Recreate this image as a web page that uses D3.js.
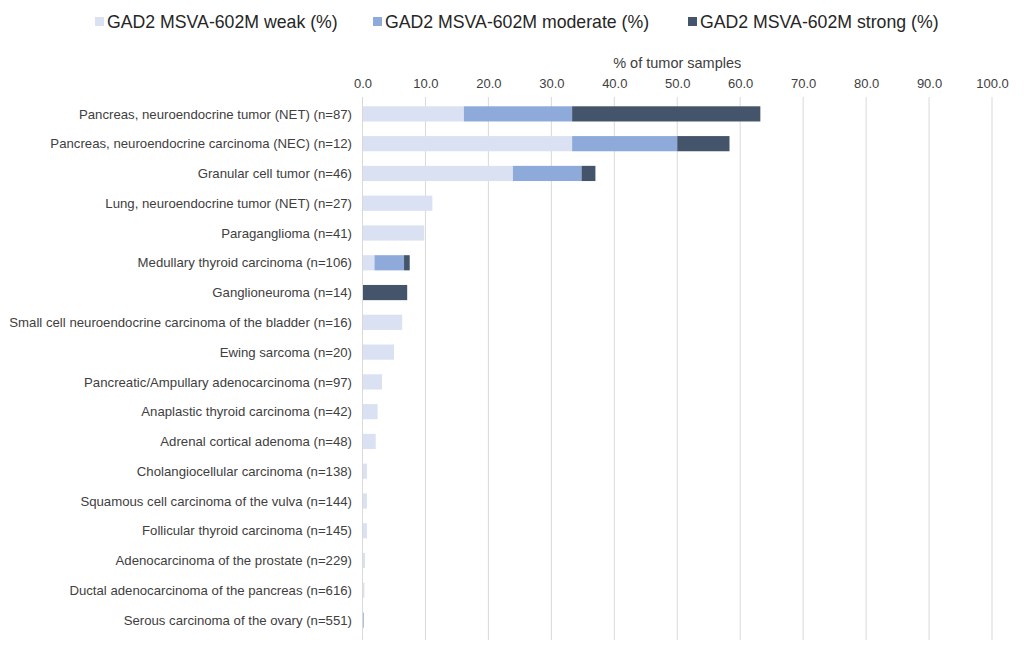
<!DOCTYPE html>
<html><head><meta charset="utf-8">
<script src="https://cdn.jsdelivr.net/npm/d3@7"></script>
<style>body{margin:0;background:#fff}svg{display:block}text{font-family:"Liberation Sans",Arial,sans-serif;fill:#404040}</style>
</head><body><svg id="c" width="1024" height="652"></svg>
<script>
const categories = [
 "Pancreas, neuroendocrine tumor (NET) (n=87)",
 "Pancreas, neuroendocrine carcinoma (NEC) (n=12)",
 "Granular cell tumor (n=46)",
 "Lung, neuroendocrine tumor (NET) (n=27)",
 "Paraganglioma (n=41)",
 "Medullary thyroid carcinoma (n=106)",
 "Ganglioneuroma (n=14)",
 "Small cell neuroendocrine carcinoma of the bladder (n=16)",
 "Ewing sarcoma (n=20)",
 "Pancreatic/Ampullary adenocarcinoma (n=97)",
 "Anaplastic thyroid carcinoma (n=42)",
 "Adrenal cortical adenoma (n=48)",
 "Cholangiocellular carcinoma (n=138)",
 "Squamous cell carcinoma of the vulva (n=144)",
 "Follicular thyroid carcinoma (n=145)",
 "Adenocarcinoma of the prostate (n=229)",
 "Ductal adenocarcinoma of the pancreas (n=616)",
 "Serous carcinoma of the ovary (n=551)"
];
const weak     = [16.1, 33.3, 23.9, 11.1, 9.8, 1.9, 0, 6.3, 5.0, 3.1, 2.4, 2.1, 0.7, 0.7, 0.7, 0.4, 0.3, 0];
const moderate = [17.2, 16.7, 10.9, 0, 0, 4.7, 0, 0, 0, 0, 0, 0, 0, 0, 0, 0, 0, 0.2];
const strong   = [29.9, 8.3, 2.2, 0, 0, 0.9, 7.1, 0, 0, 0, 0, 0, 0, 0, 0, 0, 0, 0];
const seriesNames = ["GAD2 MSVA-602M weak (%)", "GAD2 MSVA-602M moderate (%)", "GAD2 MSVA-602M strong (%)"];
const colors = ["#dae1f2", "#8eaadb", "#44546a"];
const ticks = [0,10,20,30,40,50,60,70,80,90,100];

const svg = d3.select("#c");
const x = d3.scaleLinear().domain([0,100]).range([362.5, 992]);
const y = d3.scaleBand().domain(categories).range([99, 635]).paddingInner(0.49).paddingOuter(0.245);

// gridlines
svg.append("g").selectAll("line").data(ticks.slice(1)).join("line")
  .attr("x1", d=>x(d)).attr("x2", d=>x(d)).attr("y1", 97).attr("y2", 640)
  .attr("stroke", "#d9d9d9").attr("stroke-width", 1);

// stacks
const rows = categories.map((c,i)=>({cat:c, weak:weak[i], moderate:moderate[i], strong:strong[i]}));
const stack = d3.stack().keys(["weak","moderate","strong"])(rows);
svg.append("g").selectAll("g").data(stack).join("g").attr("fill", (d,i)=>colors[i])
  .selectAll("rect").data(d=>d).join("rect")
  .attr("x", d=>x(d[0])).attr("width", d=>Math.max(0, x(d[1])-x(d[0])))
  .attr("y", d=>y(d.data.cat)).attr("height", y.bandwidth());

// y axis line
svg.append("line").attr("x1", x(0)).attr("x2", x(0)).attr("y1", 97).attr("y2", 640)
  .attr("stroke", "#d9d9d9").attr("stroke-width", 1);

// category labels
svg.append("g").selectAll("text").data(categories).join("text")
  .attr("x", 352).attr("y", d=>y(d)+y.bandwidth()/2).attr("dy", "0.35em")
  .attr("text-anchor", "end").attr("font-size", 13.2).text(d=>d);

// top axis
const ax = svg.append("g").attr("transform", "translate(0,97)")
  .call(d3.axisTop(x).tickValues(ticks).tickFormat(d3.format(".1f")).tickSize(0).tickPadding(9));
ax.select(".domain").remove();
ax.selectAll("text").attr("font-size", 13).style("font-family", '"Liberation Sans",Arial,sans-serif').attr("fill", "#404040");

svg.append("text").attr("x", x(50)).attr("y", 68).attr("text-anchor", "middle").attr("font-size", 14.5).text("% of tumor samples");

// legend
const legX = [95, 373, 688];
const lg = svg.append("g").selectAll("g").data(seriesNames).join("g")
  .attr("transform", (d,i)=>`translate(${legX[i]},22)`);
lg.append("rect").attr("x", 0).attr("y", -5).attr("width", 9).attr("height", 9).attr("fill", (d,i)=>colors[i]);
lg.append("text").attr("x", 12).attr("y", 0).attr("dy", "0.35em").attr("font-size", 17.7).style("fill", "#262626").text(d=>d);
</script></body></html>
